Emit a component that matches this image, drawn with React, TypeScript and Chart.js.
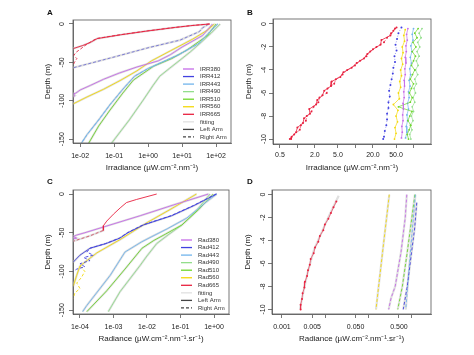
import React, { useEffect, useRef } from 'react';
import { Chart, registerables } from 'chart.js';

Chart.register(...registerables);

const FONT = '"Liberation Sans", Arial, Helvetica, sans-serif';

const COL_380 = '#C56BE8';
const COL_412 = '#4141E0';
const COL_443 = '#72B4EC';
const COL_490 = '#93DE8C';
const COL_510 = '#6ED62C';
const COL_560 = '#F4D90A';
const COL_665 = '#E8213F';
const COL_FIT = '#E0E0E0';
const COL_ARM = '#444444';

// ---------- shared axis ticks ----------
const DEPTH_TICKS_150 = [0, -50, -100, -150];
const DEPTH_TICKS_10 = [0, -2, -4, -6, -8, -10];

// ---------- Panel A : Irradiance, full profile ----------
const A_X_TICKS = [0.01, 0.1, 1, 10, 100];
const A_X_LABELS = ['1e-02', '1e-01', '1e+00', '1e+01', '1e+02'];
const A_LEGEND = ['IRR380', 'IRR412', 'IRR443', 'IRR490', 'IRR510', 'IRR560', 'IRR665'];

const A_D_380 = [0, -5, -15, -30, -40, -48, -56, -64, -72, -80, -86, -90, -91, -93, -95];
const A_X_380 = [79, 63, 40, 10, 4.5, 2.0, 0.47, 0.14, 0.049, 0.02, 0.01, 0.0075, 0.0063, 0.0071, 0.0063];
const A_D_412 = [0, -2, -5, -10, -21, -31, -43, -57];
const A_X_412 = [60, 52, 40, 32, 8.7, 1.0, 0.1, 0.0063];
const A_D_443 = [0, -10, -25, -40, -50, -58, -68, -85, -105, -125, -144, -155];
const A_X_443 = [112, 66, 32, 7.9, 2.5, 1.0, 0.4, 0.18, 0.076, 0.035, 0.016, 0.011];
const A_D_490 = [0, -12, -25, -36, -47, -58, -68, -80, -99, -125, -155];
const A_X_490 = [132, 71, 34, 17.8, 8.7, 4.2, 2.2, 1.4, 0.72, 0.28, 0.085];
const A_D_510 = [0, -15, -34, -45, -55, -73, -90, -112, -133, -155];
const A_X_510 = [100, 56, 13.8, 5.0, 1.45, 0.37, 0.18, 0.076, 0.035, 0.018];
const A_D_560 = [0, -8, -20, -35, -48, -61, -73, -85, -95, -104];
const A_X_560 = [89, 56, 20, 4.5, 1.26, 0.47, 0.16, 0.049, 0.016, 0.0063];
const A_D_665 = [0, -2, -4.5, -9, -14, -19, -24, -28, -32];
const A_X_665 = [66, 20, 6.3, 1.0, 0.16, 0.032, 0.02, 0.012, 0.0063];
const A_D_665R = [0, -2, -4.5, -9, -14, -19, -23, -28, -33, -37, -41, -45, -50, -53];
const A_X_665R = [63, 19, 6.0, 0.95, 0.15, 0.030, 0.021, 0.014, 0.010, 0.0075, 0.0065, 0.008, 0.0068, 0.0063];

// ---------- Panel B : Irradiance, top 10 m ----------
const B_X_TICKS = [0.5, 1, 2, 5, 10, 20, 50, 100];
const B_X_LABELS = ['0.5', '', '2.0', '5.0', '', '20.0', '50.0', ''];

const B_D_665 = [-0.3, -0.6, -1.0, -1.4, -1.8, -2.2, -2.6, -3.0, -3.4, -3.8, -4.2, -4.6, -5.0, -5.4, -5.8, -6.2, -6.6, -7.0, -7.4, -7.8, -8.2, -8.6, -9.0, -9.4, -9.8, -10.0];
const B_X_665 = [51, 45, 40, 28, 27, 20, 16, 14, 10.5, 8.6, 6.2, 5.5, 3.9, 3.8, 2.9, 2.7, 2.2, 2.1, 1.6, 1.65, 1.3, 1.25, 1.0, 0.95, 0.8, 0.78];
const B_D_665R = [-0.4, -0.8, -1.2, -1.6, -2.0, -2.4, -2.8, -3.2, -3.6, -4.0, -4.4, -4.8, -5.2, -5.6, -6.0, -6.4, -6.8, -7.2, -7.6, -8.0, -8.4, -8.8, -9.2, -9.6, -10.0];
const B_X_665R = [48, 41, 35, 31, 23, 18, 15.5, 12, 9.8, 7.2, 6.0, 4.6, 4.3, 3.3, 3.2, 2.4, 2.3, 1.9, 1.75, 1.45, 1.4, 1.15, 1.1, 0.88, 0.74];
const B_D_412 = [-0.3, -0.8, -1.3, -1.8, -2.3, -2.8, -3.3, -3.8, -4.3, -4.8, -5.3, -5.8, -6.3, -6.8, -7.3, -7.8, -8.3, -8.8, -9.3, -9.8, -10.0];
const B_X_412 = [62, 55, 52, 49, 51, 47, 48, 45, 44, 42, 40, 38, 39, 37, 37, 35, 35, 34, 32, 31, 30];
const B_D_380 = [-0.4, -0.9, -1.4, -1.9, -2.4, -2.9, -3.4, -3.9, -4.4, -4.9, -5.4, -5.9, -6.4, -6.9, -7.4, -7.9, -8.4, -8.9, -9.4, -9.9];
const B_X_380 = [80, 76, 78, 74, 75, 72, 74, 71, 72, 69, 70, 68, 69, 66, 67, 65, 66, 63, 64, 62];
const B_D_443 = [-0.4, -0.9, -1.4, -1.9, -2.4, -2.9, -3.4, -3.9, -4.4, -4.9, -5.4, -5.9, -6.4, -6.9, -7.4, -7.9, -8.4, -8.9, -9.4, -9.9];
const B_X_443 = [100, 95, 98, 90, 94, 88, 92, 86, 89, 84, 87, 82, 84, 79, 82, 77, 79, 75, 77, 73];
const B_D_490 = [-0.4, -0.8, -1.2, -1.6, -2.0, -2.4, -2.8, -3.2, -3.6, -4.0, -4.4, -4.8, -5.2, -5.6, -6.0, -6.4, -6.8, -7.2, -7.6, -8.0, -8.4, -8.8, -9.2, -9.6, -10.0];
const B_X_490 = [140, 125, 135, 118, 128, 115, 125, 112, 120, 108, 118, 105, 112, 102, 108, 98, 105, 95, 100, 92, 98, 88, 94, 86, 90];
const B_D_510 = [-0.4, -0.8, -1.2, -1.6, -2.0, -2.4, -2.8, -3.2, -3.6, -4.0, -4.4, -4.8, -5.2, -5.6, -6.0, -6.4, -6.8, -7.2, -7.6, -8.0, -8.4, -8.8, -9.2, -9.6, -10.0];
const B_X_510 = [120, 105, 115, 98, 110, 95, 108, 100, 92, 105, 96, 88, 100, 92, 85, 95, 88, 55, 94, 86, 80, 90, 84, 78, 82];
const B_D_560 = [-0.5, -1.0, -1.5, -2.0, -2.5, -3.0, -3.5, -4.0, -4.5, -5.0, -5.5, -6.0, -6.5, -7.0, -7.5, -8.0, -8.5, -9.0, -9.5, -10.0];
const B_X_560 = [72, 68, 70, 64, 66, 62, 65, 60, 62, 58, 60, 55, 57, 45, 54, 50, 53, 48, 50, 47];

// ---------- Panel C : Radiance, full profile ----------
const C_X_TICKS = [0.0001, 0.001, 0.01, 0.1, 1];
const C_X_LABELS = ['1e-04', '1e-03', '1e-02', '1e-01', '1e+00'];
const C_LEGEND = ['Rad380', 'Rad412', 'Rad443', 'Rad490', 'Rad510', 'Rad560', 'Rad665'];

const C_D_380 = [0, -14, -28, -42, -50, -53, -55, -57, -58];
const C_X_380 = [0.68, 0.063, 0.0063, 0.00056, 0.00014, 0.00008, 0.000063, 0.00008, 0.000063];
const C_D_412 = [0, -15, -28, -40, -50, -57, -64, -70, -79, -88];
const C_X_412 = [1.2, 0.25, 0.055, 0.0078, 0.0027, 0.00155, 0.0006, 0.0002, 0.0001, 0.000063];
const C_D_412R = [0, -15, -28, -40, -50, -57, -64, -70, -75, -79, -82, -86, -90, -94, -97, -100];
const C_X_412R = [1.15, 0.24, 0.052, 0.0075, 0.0026, 0.0015, 0.00058, 0.0002, 0.00016, 0.00025, 0.00013, 0.0002, 0.0001, 0.00014, 0.00008, 0.000063];
const C_D_443 = [0, -10, -31, -45, -55, -62, -75, -105, -144, -152];
const C_X_443 = [1.2, 0.6, 0.155, 0.04, 0.014, 0.0068, 0.0022, 0.0008, 0.00016, 0.00012];
const C_D_490 = [0, -20, -40, -52, -64, -80, -92, -126, -152];
const C_X_490 = [0.76, 0.32, 0.11, 0.045, 0.0195, 0.01, 0.0063, 0.00158, 0.0007];
const C_D_510 = [0, -20, -40, -52, -60, -70, -97, -125, -152];
const C_X_510 = [0.95, 0.35, 0.11, 0.035, 0.016, 0.0071, 0.0022, 0.00063, 0.00016];
const C_D_560 = [0, -20, -37, -59, -76, -93, -105, -119];
const C_X_560 = [0.3, 0.049, 0.01, 0.00155, 0.00032, 0.0001, 0.00008, 0.000063];
const C_D_560R = [-93, -100, -108, -115, -122, -128, -135];
const C_X_560R = [0.0001, 0.00014, 0.00011, 0.00008, 0.0001, 0.00007, 0.000063];
const C_D_665 = [0, -7, -11, -18, -26, -35, -41, -47];
const C_X_665 = [0.0195, 0.0049, 0.00245, 0.00158, 0.001, 0.00063, 0.0005, 0.0005];
const C_D_665R = [-41, -47, -54, -61];
const C_X_665R = [0.0005, 0.0005, 0.0002, 0.000063];

// ---------- Panel D : Radiance, top 10 m ----------
const D_X_TICKS = [0.001, 0.005, 0.01, 0.05, 0.1, 0.5, 1];
const D_X_LABELS = ['0.001', '0.005', '', '0.050', '', '0.500', ''];

const D_D_665 = [-0.6, -1.1, -1.6, -2.1, -2.6, -3.1, -3.6, -4.1, -4.6, -5.1, -5.6, -6.1, -6.6, -7.1, -7.6, -8.1, -8.6, -9.1, -9.6, -10.0];
const D_X_665 = [0.018, 0.0155, 0.0135, 0.0118, 0.0098, 0.0090, 0.0075, 0.0069, 0.0058, 0.0054, 0.0046, 0.0044, 0.0040, 0.0038, 0.0034, 0.0033, 0.0030, 0.0029, 0.0027, 0.0027];
const D_D_665F = [-0.1, -1.9, -4.8, -6.8, -8.8, -10.0];
const D_X_665F = [0.0204, 0.012, 0.0055, 0.0039, 0.003, 0.0026];
const D_D_560 = [0, -5, -10];
const D_X_560 = [0.30, 0.21, 0.148];
const D_D_380 = [0, -2, -5, -8, -9, -10];
const D_X_380 = [0.76, 0.70, 0.56, 0.41, 0.33, 0.29];
const D_D_510 = [0, -5, -8, -10];
const D_X_510 = [1.17, 0.78, 0.6, 0.47];
const D_D_412 = [-0.7, -3, -5, -8, -10];
const D_X_412 = [1.29, 1.15, 0.98, 0.78, 0.63];
const D_D_443 = [0, -5, -10];
const D_X_443 = [1.2, 0.92, 0.72];

// ---------- helpers ----------
type Opt = { width?: number; dash?: number[]; point?: number };
function line(xs: number[], ys: number[], color: string, o: Opt = {}) {
  return {
    data: xs.map((x, i) => ({ x, y: ys[i] })),
    borderColor: color,
    backgroundColor: color,
    borderWidth: o.width ?? 0.9,
    borderDash: o.dash ?? [],
    pointRadius: o.point ?? 0,
    pointBorderWidth: 0,
    showLine: true,
    tension: 0,
    fill: false,
  };
}
const FIT = (xs: number[], ys: number[]) => line(xs, ys, COL_FIT, { width: 2.2 });
const DASH = [3, 2];

type Box = { left: number; top: number; right: number; bottom: number };
type LegendItem = { label: string; color: string; dash?: number[] };
type PanelProps = {
  pageX: number; pageY: number; w: number; h: number; area: Box;
  datasets: any[]; xMin: number; xMax: number; xTicks: number[]; xLabels: string[];
  yMin: number; yMax: number; yTicks: number[]; xTitle: string;
  xTickPad: number; xTitlePad: number; yTitlePad: number; legend?: LegendItem[];
};

function legendItems(labels: string[]): LegendItem[] {
  const cols = [COL_380, COL_412, COL_443, COL_490, COL_510, COL_560, COL_665];
  return [
    ...labels.map((l, i) => ({ label: l, color: cols[i] })),
    { label: 'fitting', color: COL_FIT },
    { label: 'Left Arm', color: COL_ARM },
    { label: 'Right Arm', color: COL_ARM, dash: DASH },
  ];
}

function Panel(p: PanelProps) {
  const ref = useRef<HTMLCanvasElement>(null);
  useEffect(() => {
    const canvas = ref.current;
    if (!canvas) return;
    const area = p.area;
    const framePlugin = {
      id: 'frameAndLegend',
      afterDraw(chart: any) {
        const { ctx, chartArea: ca } = chart;
        ctx.save();
        ctx.strokeStyle = '#555';
        ctx.lineWidth = 0.8;
        ctx.strokeRect(ca.left, ca.top, ca.right - ca.left, ca.bottom - ca.top);
        if (p.legend) {
          ctx.font = `6px ${FONT}`;
          ctx.textBaseline = 'middle';
          ctx.textAlign = 'left';
          p.legend.forEach((it, i) => {
            const y = ca.bottom - 74 + i * 7.55;
            ctx.beginPath();
            ctx.setLineDash(it.dash || []);
            ctx.strokeStyle = it.color;
            ctx.lineWidth = 1.3;
            ctx.moveTo(ca.right - 48, y);
            ctx.lineTo(ca.right - 37, y);
            ctx.stroke();
            ctx.setLineDash([]);
            ctx.fillStyle = '#333';
            ctx.fillText(it.label, ca.right - 31, y);
          });
        }
        ctx.restore();
      },
    };
    const gridOpts = { drawOnChartArea: false, drawTicks: true, tickLength: 4, color: '#555', lineWidth: 0.8 };
    const borderOpts = { display: true, color: '#555', width: 0.8 };
    const chart = new Chart(canvas, {
      type: 'scatter',
      data: { datasets: [...p.datasets].reverse() },
      options: {
        responsive: false,
        maintainAspectRatio: false,
        animation: false,
        devicePixelRatio: 1,
        layout: { padding: { left: 0, top: area.top, right: p.w - area.right, bottom: 0 } },
        plugins: { legend: { display: false }, tooltip: { enabled: false } },
        scales: {
          x: {
            type: 'logarithmic',
            position: 'bottom',
            min: p.xMin,
            max: p.xMax,
            afterBuildTicks: (s: any) => { s.ticks = p.xTicks.map((v) => ({ value: v })); },
            afterFit: (s: any) => { s.height = p.h - area.bottom; },
            ticks: {
              callback: (_v: any, i: number) => p.xLabels[i],
              font: { family: FONT, size: 7 },
              color: '#222',
              padding: p.xTickPad,
              minRotation: 0,
              maxRotation: 0,
              autoSkip: false,
            },
            grid: gridOpts,
            border: borderOpts,
            title: { display: true, text: p.xTitle, font: { family: FONT, size: 8 }, color: '#222', padding: { top: 0, bottom: p.xTitlePad } },
          },
          y: {
            type: 'linear',
            position: 'left',
            min: p.yMin,
            max: p.yMax,
            afterBuildTicks: (s: any) => { s.ticks = p.yTicks.map((v) => ({ value: v })); },
            afterFit: (s: any) => { s.width = area.left; },
            ticks: {
              callback: (v: any) => String(v),
              font: { family: FONT, size: 7 },
              color: '#222',
              padding: 0,
              minRotation: 90,
              maxRotation: 90,
              crossAlign: 'center',
              autoSkip: false,
            },
            grid: gridOpts,
            border: borderOpts,
            title: { display: true, text: 'Depth (m)', font: { family: FONT, size: 8 }, color: '#222', padding: { top: p.yTitlePad, bottom: 0 } },
          },
        },
      } as any,
      plugins: [framePlugin],
    } as any);
    return () => chart.destroy();
  }, []);
  return (
    <canvas
      ref={ref}
      width={p.w}
      height={p.h}
      style={{ position: 'absolute', left: p.pageX, top: p.pageY, width: p.w, height: p.h }}
    />
  );
}

// datasets listed bottom-most first
const A_DATASETS = [
  FIT(A_X_380, A_D_380), FIT(A_X_412, A_D_412), FIT(A_X_443, A_D_443), FIT(A_X_490, A_D_490),
  FIT(A_X_510, A_D_510), FIT(A_X_560, A_D_560), FIT(A_X_665, A_D_665),
  line(A_X_490, A_D_490, COL_490),
  line(A_X_510, A_D_510, COL_510),
  line(A_X_443, A_D_443, COL_443),
  line(A_X_443, A_D_443, COL_443, { dash: DASH }),
  line(A_X_560, A_D_560, COL_560),
  line(A_X_380, A_D_380, COL_380),
  line(A_X_412, A_D_412, '#7373D4', { dash: DASH }),
  line(A_X_665R, A_D_665R, COL_665, { dash: DASH }),
  line(A_X_665, A_D_665, COL_665),
];

const B_DATASETS = [
  line(B_X_490, B_D_490, COL_490, { width: 0.7, point: 0.9 }),
  line(B_X_443, B_D_443, COL_443, { width: 0.7, point: 0.9 }),
  line(B_X_510, B_D_510, COL_510, { width: 0.7, point: 0.9 }),
  line(B_X_380, B_D_380, COL_380, { width: 0.7, point: 0.9 }),
  line(B_X_560, B_D_560, COL_560, { width: 0.7, point: 0.9 }),
  line(B_X_412, B_D_412, COL_412, { width: 0.5, dash: [1, 2], point: 1 }),
  line(B_X_665R, B_D_665R, COL_665, { width: 0.6, dash: DASH, point: 1 }),
  line(B_X_665, B_D_665, COL_665, { width: 0.8, point: 1 }),
];

const C_DATASETS = [
  FIT(C_X_380, C_D_380), FIT(C_X_412, C_D_412), FIT(C_X_443, C_D_443), FIT(C_X_490, C_D_490),
  FIT(C_X_510, C_D_510), FIT(C_X_560, C_D_560), FIT(C_X_665R, C_D_665R),
  line(C_X_490, C_D_490, COL_490),
  line(C_X_510, C_D_510, COL_510),
  line(C_X_443, C_D_443, COL_443),
  line(C_X_560R, C_D_560R, COL_560, { dash: DASH }),
  line(C_X_560, C_D_560, COL_560),
  line(C_X_412R, C_D_412R, COL_412, { dash: DASH }),
  line(C_X_412, C_D_412, COL_412),
  line(C_X_380, C_D_380, COL_380),
  line(C_X_665R, C_D_665R, '#D4566A', { dash: DASH }),
  line(C_X_665, C_D_665, COL_665),
];

const D_DATASETS = [
  FIT(D_X_665F, D_D_665F), FIT(D_X_560, D_D_560), FIT(D_X_380, D_D_380), FIT(D_X_510, D_D_510),
  FIT(D_X_412, D_D_412), FIT(D_X_443, D_D_443),
  line(D_X_560, D_D_560, COL_560, { dash: DASH }),
  line(D_X_380, D_D_380, COL_380, { dash: DASH }),
  line(D_X_510, D_D_510, COL_510, { dash: DASH }),
  line(D_X_443, D_D_443, COL_443, { dash: DASH }),
  line(D_X_412, D_D_412, COL_412, { dash: DASH }),
  line(D_X_665, D_D_665, COL_665, { width: 0.6, point: 1 }),
];

const IRR_TITLE = 'Irradiance (\u00B5W.cm\u207B\u00B2.nm\u207B\u00B9)';
const RAD_TITLE = 'Radiance (\u00B5W.cm\u207B\u00B2.nm\u207B\u00B9.sr\u207B\u00B9)';

const letterStyle = (left: number, top: number): React.CSSProperties => ({
  position: 'absolute', left, top, fontFamily: FONT, fontWeight: 'bold', fontSize: 8, lineHeight: '10px', color: '#111',
});

export default function App() {
  return (
    <div style={{ position: 'fixed', left: 0, top: 0, width: 474, height: 355, background: '#fff', overflow: 'hidden' }}>
      <Panel
        pageX={0} pageY={0} w={237} h={177}
        area={{ left: 73, top: 20, right: 231, bottom: 143 }}
        datasets={A_DATASETS}
        xMin={0.00617} xMax={275} xTicks={A_X_TICKS} xLabels={A_X_LABELS}
        yMin={-155} yMax={5.2} yTicks={DEPTH_TICKS_150}
        xTitle={IRR_TITLE} xTickPad={5} xTitlePad={4} yTitlePad={43}
        legend={legendItems(A_LEGEND)}
      />
      <Panel
        pageX={237} pageY={0} w={237} h={177}
        area={{ left: 36, top: 19, right: 194, bottom: 144 }}
        datasets={B_DATASETS}
        xMin={0.38} xMax={200} xTicks={B_X_TICKS} xLabels={B_X_LABELS}
        yMin={-10.43} yMax={0.43} yTicks={DEPTH_TICKS_10}
        xTitle={IRR_TITLE} xTickPad={3} xTitlePad={4} yTitlePad={7}
      />
      <Panel
        pageX={0} pageY={177} w={237} h={178}
        area={{ left: 73, top: 13, right: 229, bottom: 137 }}
        datasets={C_DATASETS}
        xMin={0.000062} xMax={2.8} xTicks={C_X_TICKS} xLabels={C_X_LABELS}
        yMin={-155} yMax={5.2} yTicks={DEPTH_TICKS_150}
        xTitle={RAD_TITLE} xTickPad={5} xTitlePad={11} yTitlePad={43}
        legend={legendItems(C_LEGEND)}
      />
      <Panel
        pageX={237} pageY={177} w={237} h={178}
        area={{ left: 35, top: 13, right: 194, bottom: 137 }}
        datasets={D_DATASETS}
        xMin={0.00059} xMax={2.75} xTicks={D_X_TICKS} xLabels={D_X_LABELS}
        yMin={-10.4} yMax={0.4} yTicks={DEPTH_TICKS_10}
        xTitle={RAD_TITLE} xTickPad={5} xTitlePad={11} yTitlePad={6}
      />
      <div style={letterStyle(47, 8)}>A</div>
      <div style={letterStyle(247, 8)}>B</div>
      <div style={letterStyle(47, 177)}>C</div>
      <div style={letterStyle(247, 177)}>D</div>
    </div>
  );
}
